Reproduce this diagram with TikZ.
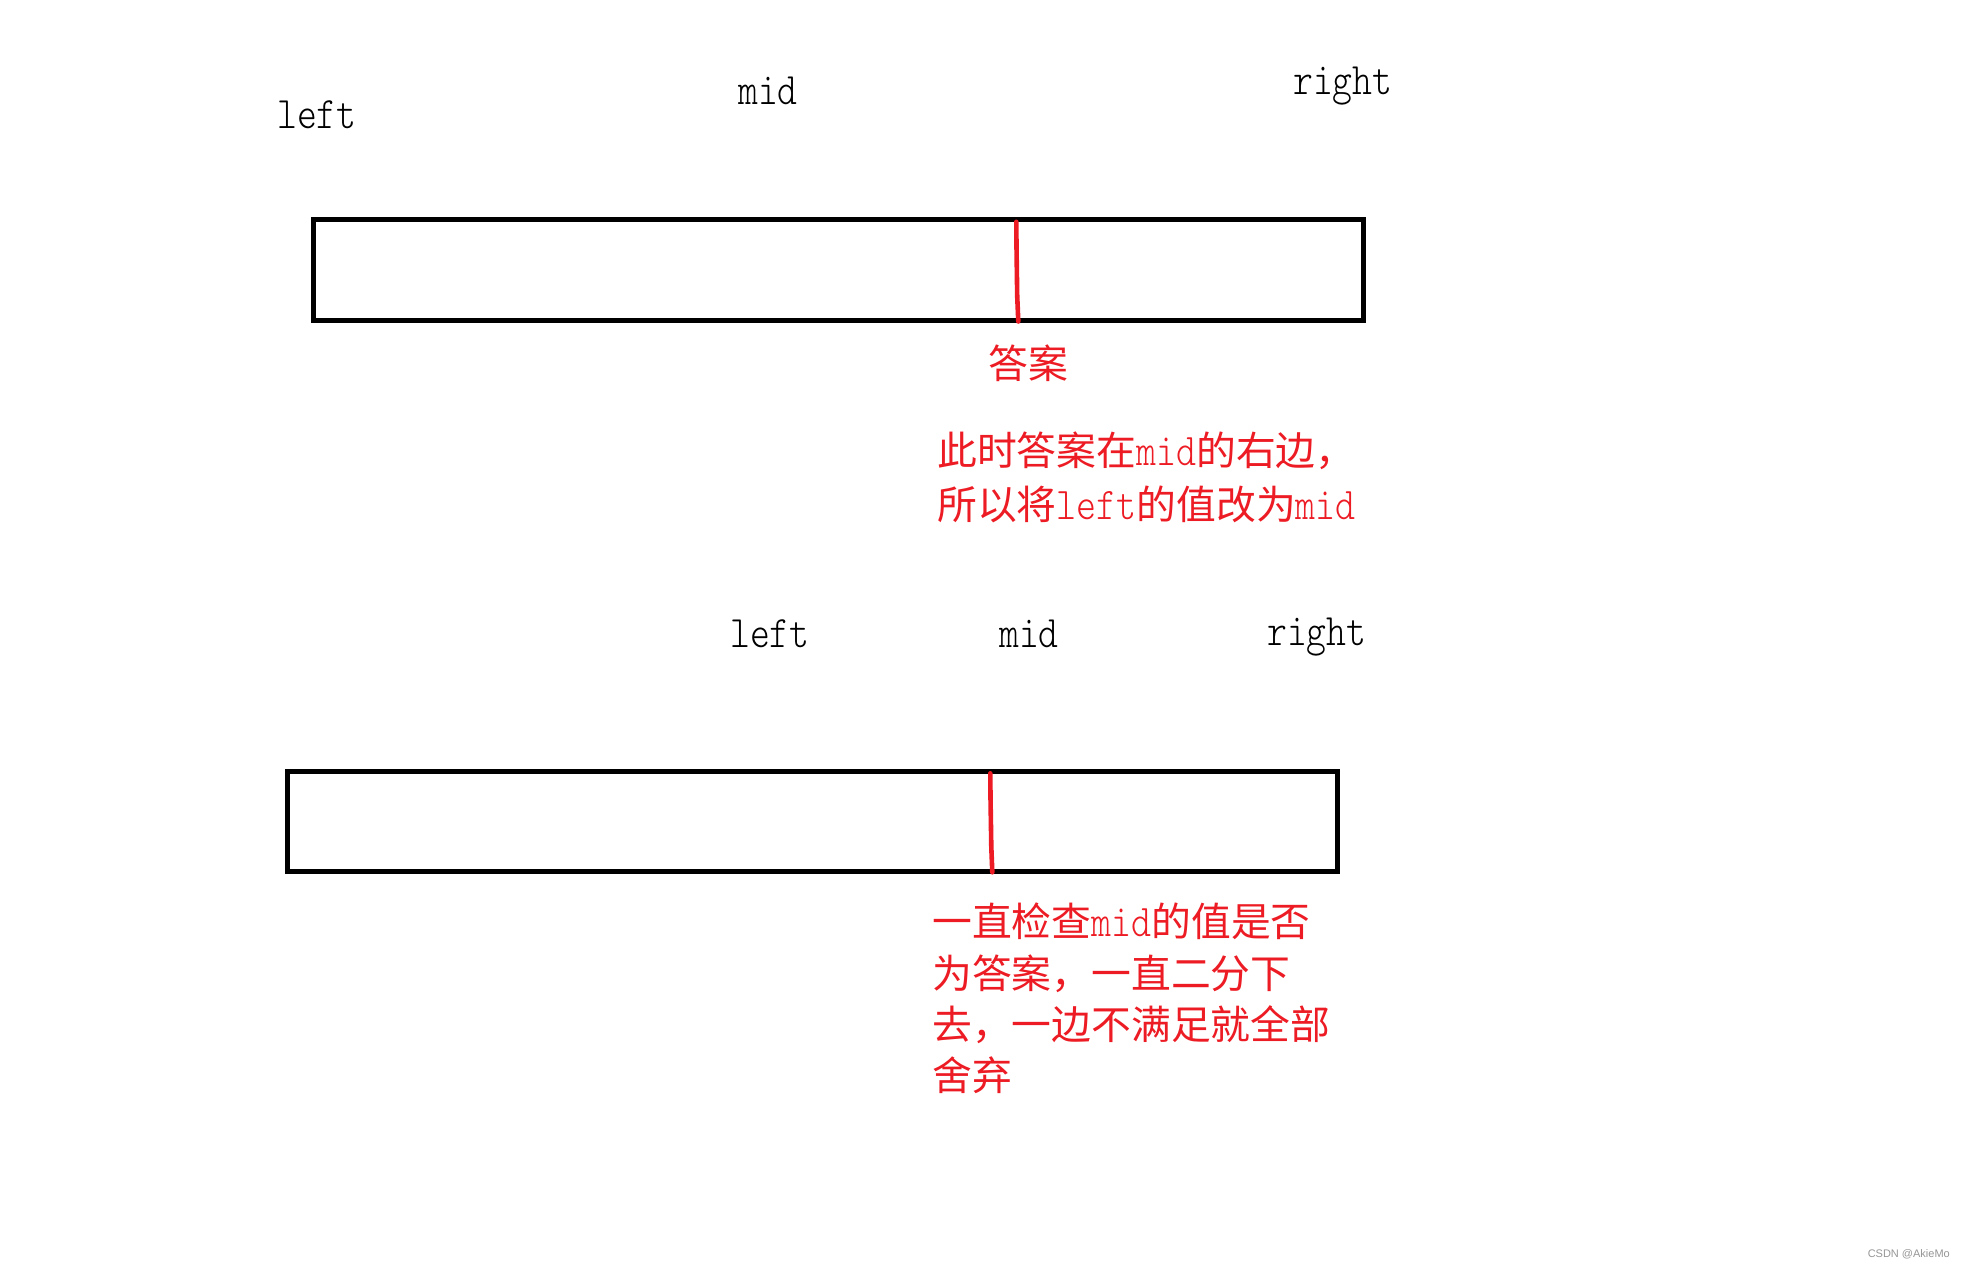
\documentclass[tikz,border=0pt]{standalone}
\usepackage{fontspec}
\newfontfamily\cjk{Noto Sans CJK SC}
\newfontfamily\latfont[Scale=1.14,FakeStretch=0.84]{lmmonolt10-regular.otf}
\newfontfamily\wmfont{Liberation Sans}
\newcommand\LatTxt[1]{{\latfont #1}}
\definecolor{paintred}{RGB}{237,28,36}
\definecolor{wmgrey}{RGB}{150,150,150}
\tikzset{
  barbox/.style={draw=black, line width=5pt, rectangle, inner sep=0pt, outer sep=0pt},
  redline/.style={draw=paintred, line width=4.6pt, line cap=round},
  lbl/.style={anchor=base west, inner sep=0pt, font=\latfont\fontsize{39.5}{40}\selectfont},
  note/.style={anchor=north west, inner sep=0pt, align=left, text=paintred},
}
\begin{document}
\begin{tikzpicture}[x=1pt,y=-1pt]
\useasboundingbox (0,0) rectangle (1964,1267);
\fill[white] (0,0) rectangle (1964,1267);

% ---- first bar ----
\node[lbl] (left1) at (277,128) {left};
\node[lbl] (mid1) at (738,104) {mid};
\node[lbl] (right1) at (1293,94) {right};

\node[barbox, minimum width=1050pt, minimum height=101pt] (bar1) at (838.3,269.8) {};
\coordinate (m1t) at (1016.3,221.8);
\coordinate (m1b) at (1018.3,321.5);
\draw[redline] (m1t) -- (1016.5,247) -- (1017.2,296) -- (m1b);

\node[anchor=base west, inner sep=0pt, text=paintred, font=\cjk\fontsize{39.8}{40}\selectfont] (ans) at (988,378) {答案};

\node[note, font=\cjk\fontsize{39.8}{54}\selectfont] (note1) at (937,432)
  {此时答案在\LatTxt{mid}的右边，\\所以将\LatTxt{left}的值改为\LatTxt{mid}};

% ---- second bar ----
\node[lbl] (left2) at (730,647) {left};
\node[lbl] (mid2) at (999,647) {mid};
\node[lbl] (right2) at (1267,645) {right};

\node[barbox, minimum width=1049.8pt, minimum height=100pt] (bar2) at (812.6,821) {};
\coordinate (m2t) at (990.3,773.3);
\coordinate (m2b) at (992.3,872.3);
\draw[redline] (m2t) -- (990.5,798) -- (991.3,847) -- (m2b);

\node[note, font=\cjk\fontsize{39.8}{51.3}\selectfont] (note2) at (932,903)
  {一直检查\LatTxt{mid}的值是否\\为答案，一直二分下\\去，一边不满足就全部\\舍弃};

% watermark
\node[anchor=base east, inner sep=0pt, text=wmgrey, font=\wmfont\fontsize{11}{12}\selectfont] (wm) at (1950,1257) {CSDN @AkieMo};
\end{tikzpicture}
\end{document}
